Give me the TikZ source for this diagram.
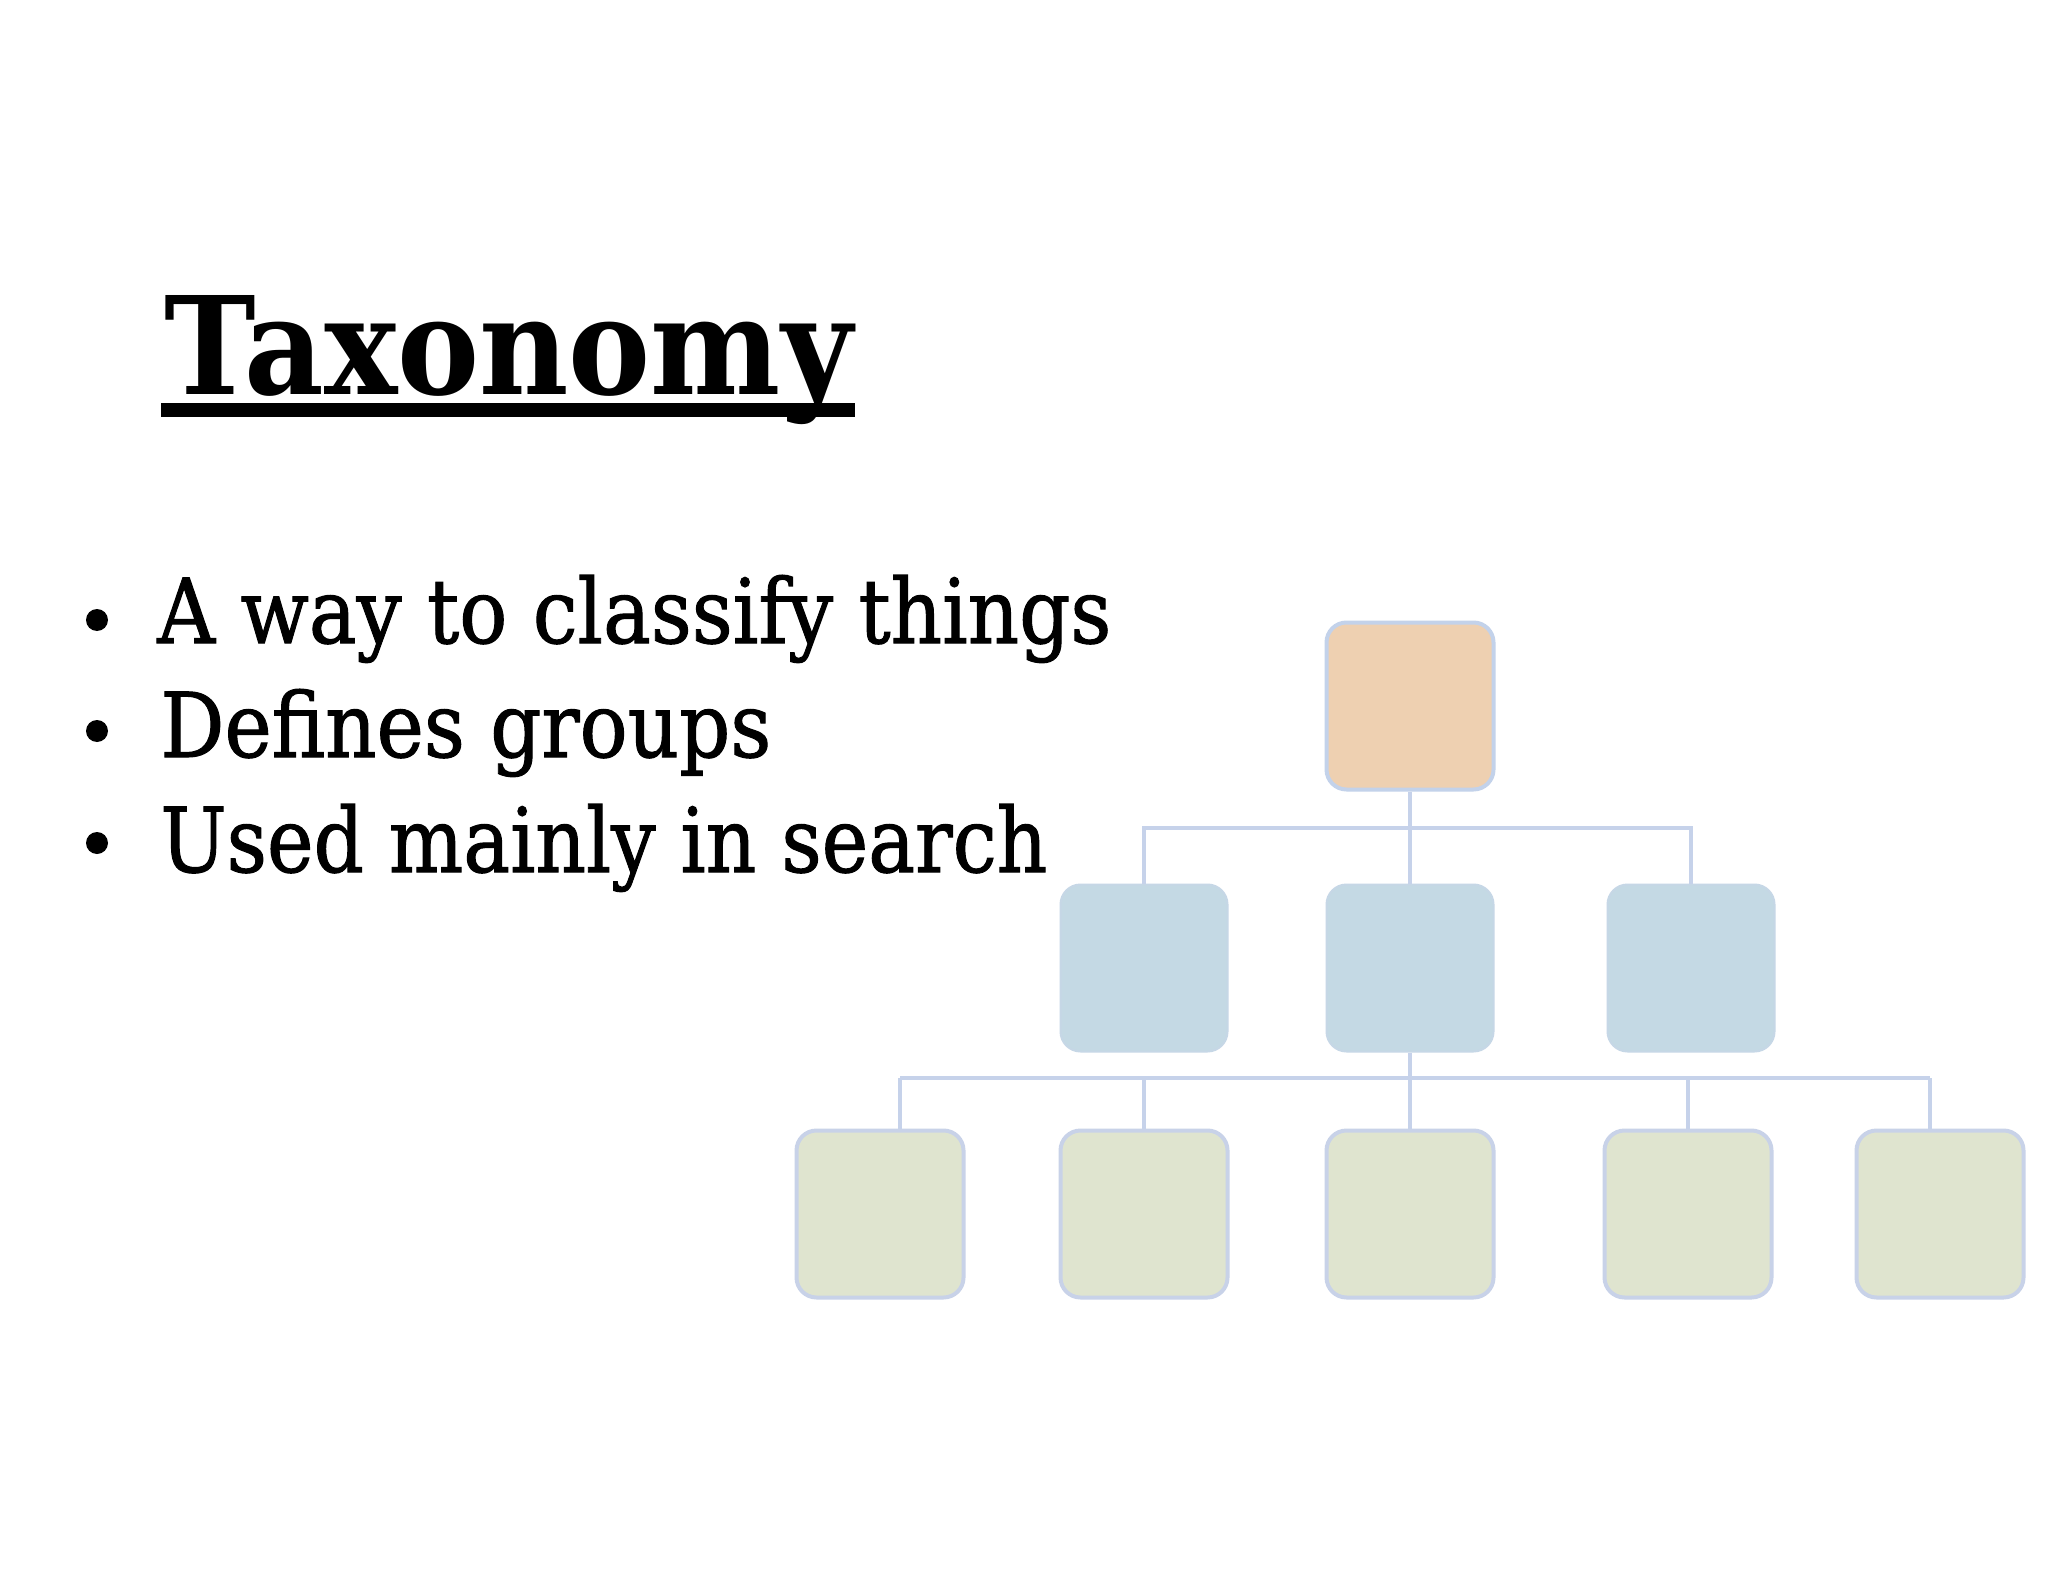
\documentclass[tikz,border=0pt]{standalone}
\usepackage{fontspec}
\setmainfont{DejaVu Serif}
\newfontfamily\bodyfont[FakeBold=1.2]{DejaVu Serif}
\usepackage{graphicx}
\definecolor{linec}{HTML}{C6D2EA}
\definecolor{topfill}{HTML}{EED0B1}
\definecolor{midfill}{HTML}{C4D9E4}
\definecolor{botfill}{HTML}{DFE4CF}
\definecolor{topdraw}{HTML}{C3D2EA}
\definecolor{middraw}{HTML}{C6D7E6}
\definecolor{botdraw}{HTML}{C8D2E8}
\begin{document}
\begin{tikzpicture}[x=0.5pt,y=-0.5pt,
  basebox/.style={rectangle, rounded corners=10pt, minimum width=83.5pt, minimum height=83.5pt, inner sep=0pt, line width=2pt},
  topbox/.style={basebox, fill=topfill, draw=topdraw},
  midbox/.style={basebox, fill=midfill, draw=middraw, line width=1pt},
  botbox/.style={basebox, fill=botfill, draw=botdraw},
  conn/.style={draw=linec, line width=2.3pt},
  bul/.style={circle, fill=black, inner sep=0pt, minimum size=11pt},
  txt/.style={anchor=base west, inner sep=0pt, font=\bodyfont\fontsize{30}{36}\selectfont}]
\useasboundingbox[fill=white] (0,0) rectangle (2048,1582);

% title
\fill (161,403) rectangle (855,417);
\node[anchor=base west, inner sep=0pt] (title) at (164,395)
  {\resizebox{344pt}{49.5pt}{\bfseries Taxonomy}};

% bullets
\node[bul] (b1dot) at (97,620) {};
\node[bul] (b2dot) at (97,731) {};
\node[bul] (b3dot) at (97,843) {};
\node[txt] (l1) at (157,643) {\resizebox{477pt}{34pt}{A way to classify things}};
\node[txt] (l2) at (160,757) {\resizebox{305.5pt}{34pt}{Defines groups}};
\node[txt] (l3) at (160,872) {\resizebox{443.5pt}{34pt}{Used mainly in search}};

% boxes
\node[topbox] (top) at (1410,706) {};
\node[midbox] (m1) at (1144,968) {};
\node[midbox] (m2) at (1410,968) {};
\node[midbox] (m3) at (1691,968) {};
\node[botbox] (c1) at (880,1214) {};
\node[botbox] (c2) at (1144,1214) {};
\node[botbox] (c3) at (1410,1214) {};
\node[botbox] (c4) at (1688,1214) {};
\node[botbox] (c5) at (1940,1214) {};

% upper connectors
\coordinate (bus1) at (1410,828);
\draw[conn] (top.south) -- (m2.north);
\draw[conn] (m1.north) |- (bus1) -| (m3.north);

% lower connectors
\coordinate (busL) at (900,1078);
\coordinate (busR) at (1930,1078);
\draw[conn] (busL) -- (busR);
\draw[conn] (busL) -- (busL |- c1.north);
\draw[conn] (busR) -- (busR |- c5.north);
\draw[conn] (c2.north) -- (c2.north |- busL);
\draw[conn] (c4.north) -- (c4.north |- busL);
\draw[conn] (m2.south) -- (c3.north);
\end{tikzpicture}
\end{document}
